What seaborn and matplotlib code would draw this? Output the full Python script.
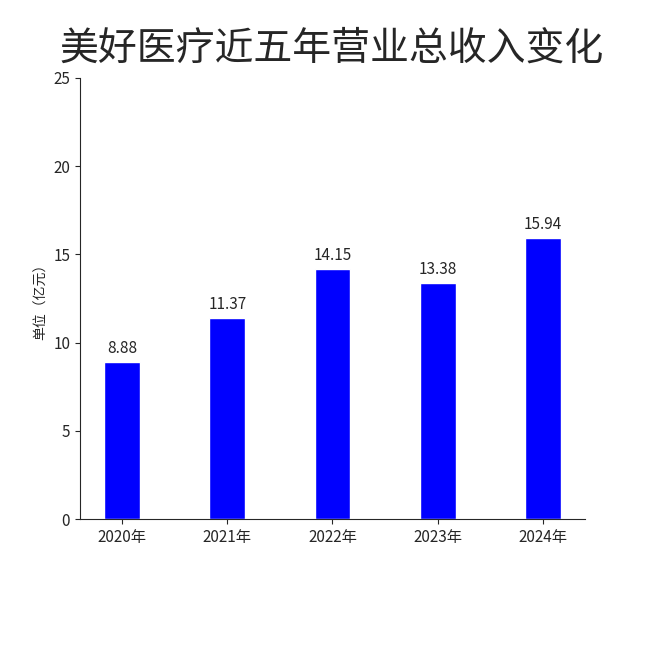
import matplotlib
matplotlib.use("Agg")
import matplotlib.pyplot as plt
import seaborn as sns
import pandas as pd

years = ['2020年', '2021年', '2022年', '2023年', '2024年']
revenue = [8.88, 11.37, 14.15, 13.38, 15.94]

sns.set_style("ticks")
plt.rcParams['font.family'] = ['Noto Sans CJK SC', 'DejaVu Sans']

df = pd.DataFrame({'year': years, 'revenue': revenue})

fig = plt.figure(figsize=(6.5, 6.5), dpi=100)
ax = fig.add_axes([0.123, 0.2015, 0.777, 0.6785])
sns.barplot(data=df, x='year', y='revenue', color='#0000ff', saturation=1,
            width=0.34, ax=ax)
for i, v in enumerate(revenue):
    ax.text(i, v + 0.3, f'{v:.2f}', ha='center', va='bottom', fontsize=11)

ax.set_xlim(-0.4, 4.4)
ax.set_ylim(0, 25)
ax.set_yticks(range(0, 26, 5))
ax.set_xlabel('')
ax.set_ylabel('单位（亿元）', fontsize=10)
ax.tick_params(labelsize=11)
sns.despine(ax=ax)
fig.text(0.51, 0.925, '美好医疗近五年营业总收入变化', ha='center', va='center', fontsize=28)

fig.savefig('out.png', dpi=100)
